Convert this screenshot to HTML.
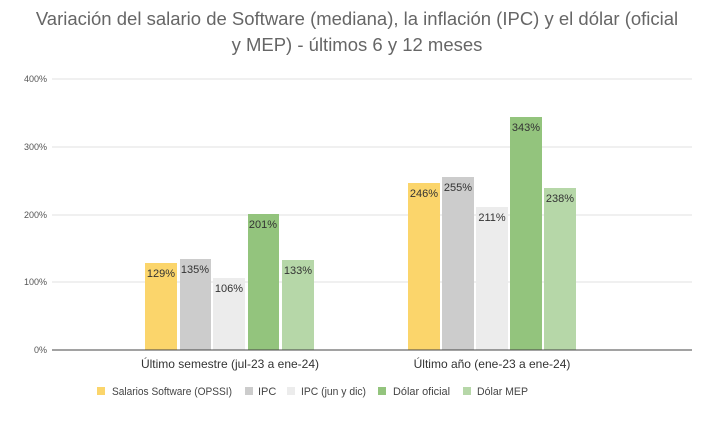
<!DOCTYPE html>
<html><head><meta charset="utf-8"><style>
body{margin:0;background:#fff;}
svg text{font-family:"Liberation Sans","DejaVu Sans",sans-serif;}
</style></head><body>
<svg width="713" height="423" xmlns="http://www.w3.org/2000/svg">
<rect width="713" height="423" fill="#fff"/>
<text x="357" y="25" text-anchor="middle" font-size="18.5" fill="#666">Variación del salario de Software (mediana), la inflación (IPC) y el dólar (oficial</text>
<text x="357" y="51" text-anchor="middle" font-size="18.5" fill="#666">y MEP) - últimos 6 y 12 meses</text>
<g stroke="#e2e2e2" stroke-width="1">
<line x1="52" x2="692" y1="79" y2="79"/>
<line x1="52" x2="692" y1="147" y2="147"/>
<line x1="52" x2="692" y1="215" y2="215"/>
<line x1="52" x2="692" y1="282" y2="282"/>
</g>
<g font-size="9" fill="#555" text-anchor="end">
<text x="47" y="82">400%</text><text x="47" y="150">300%</text><text x="47" y="218">200%</text><text x="47" y="285">100%</text><text x="47" y="353">0%</text>
</g>
<g>
<rect x="145" y="263" width="32" height="87" fill="#fbd56b"/>
<rect x="180" y="259" width="31" height="91" fill="#cccccc"/>
<rect x="213" y="278" width="32" height="72" fill="#ececec"/>
<rect x="248" y="214" width="31" height="136" fill="#93c47d"/>
<rect x="282" y="260" width="32" height="90" fill="#b6d7a8"/>
<rect x="408" y="183" width="32" height="167" fill="#fbd56b"/>
<rect x="442" y="177" width="32" height="173" fill="#cccccc"/>
<rect x="476" y="207" width="32" height="143" fill="#ececec"/>
<rect x="510" y="117" width="32" height="233" fill="#93c47d"/>
<rect x="544" y="188" width="32" height="162" fill="#b6d7a8"/>
</g>
<g font-size="11" fill="#333" text-anchor="middle">
<text x="161" y="277">129%</text><text x="195" y="273">135%</text><text x="229" y="292">106%</text><text x="263" y="228">201%</text><text x="298" y="274">133%</text>
<text x="424" y="197">246%</text><text x="458" y="191">255%</text><text x="492" y="221">211%</text><text x="526" y="131">343%</text><text x="560" y="202">238%</text>
</g>
<line x1="52" x2="692" y1="350" y2="350" stroke="#444" stroke-width="1"/>
<g font-size="12" fill="#333" text-anchor="middle">
<text x="230" y="368">Último semestre (jul-23 a ene-24)</text>
<text x="492" y="368">Último año (ene-23 a ene-24)</text>
</g>
<g font-size="11" fill="#444">
<rect x="97" y="387" width="8" height="8" fill="#fbd56b"/><text x="112" y="395" textLength="120" lengthAdjust="spacingAndGlyphs">Salarios Software (OPSSI)</text>
<rect x="245" y="387" width="8" height="8" fill="#cccccc"/><text x="258" y="395">IPC</text>
<rect x="287" y="387" width="8" height="8" fill="#ececec"/><text x="301" y="395" textLength="65" lengthAdjust="spacingAndGlyphs">IPC (jun y dic)</text>
<rect x="378" y="387" width="8" height="8" fill="#93c47d"/><text x="393" y="395" textLength="57" lengthAdjust="spacingAndGlyphs">Dólar oficial</text>
<rect x="463" y="387" width="8" height="8" fill="#b6d7a8"/><text x="477" y="395" textLength="51" lengthAdjust="spacingAndGlyphs">Dólar MEP</text>
</g>
</svg>
</body></html>
